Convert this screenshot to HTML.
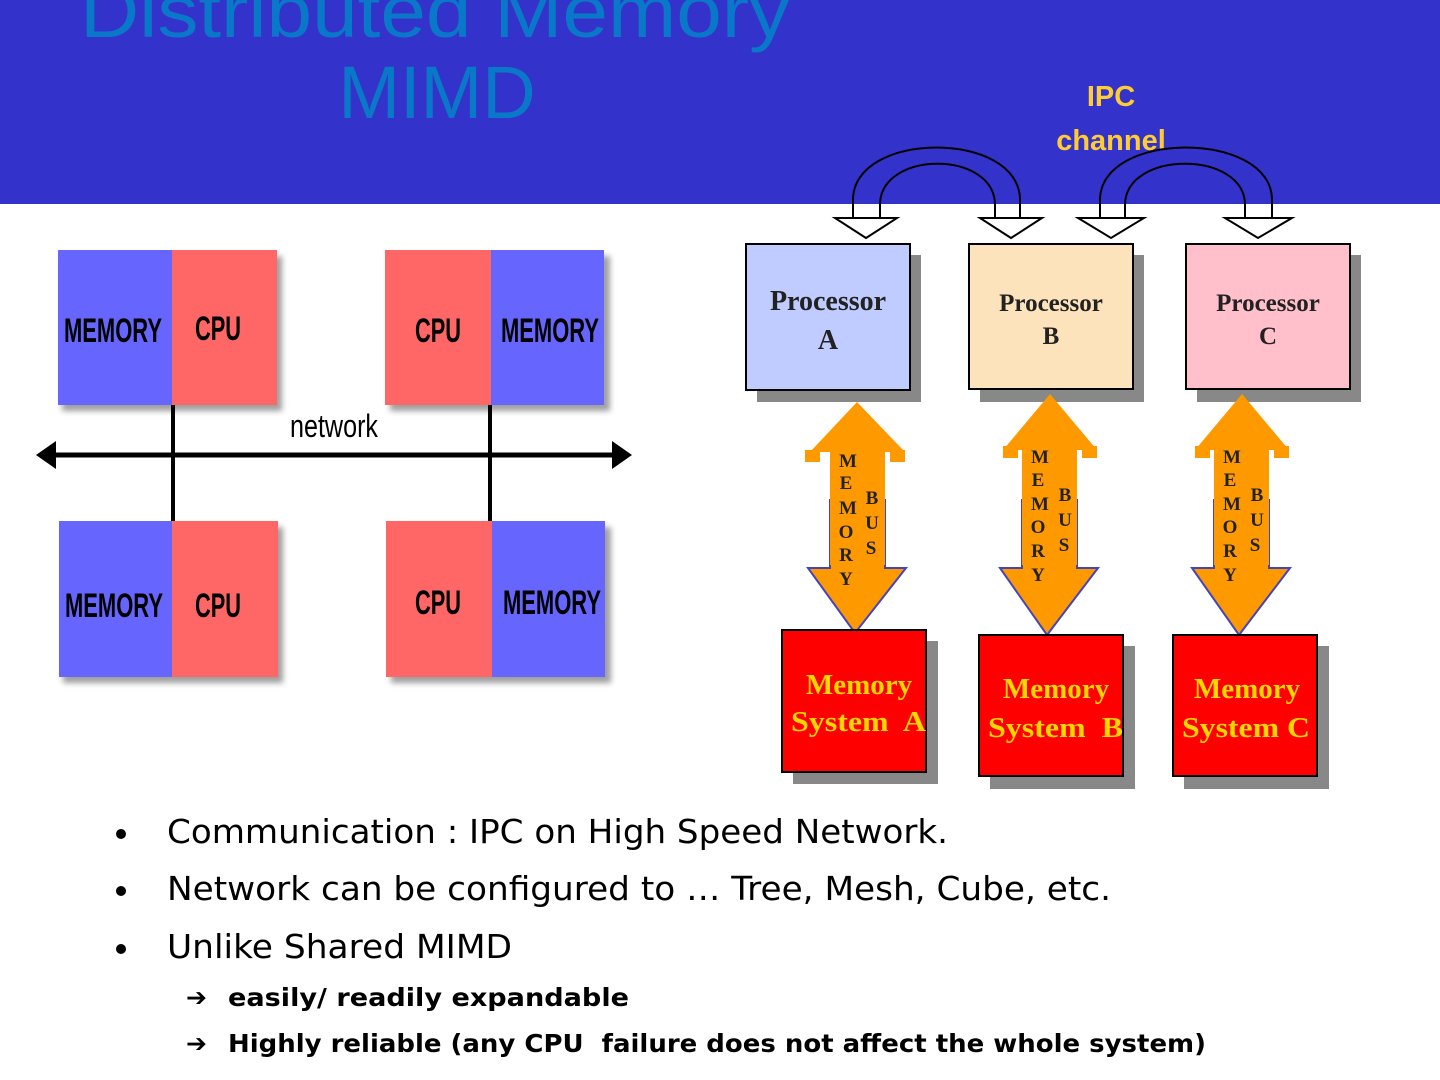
<!DOCTYPE html>
<html><head><meta charset="utf-8"><style>
html,body{margin:0;padding:0;background:#fff;}
svg{display:block;}
</style></head><body>
<svg width="1440" height="1080" viewBox="0 0 1440 1080" xmlns="http://www.w3.org/2000/svg">
<defs>
<filter id="blur" x="-10%" y="-10%" width="130%" height="130%"><feGaussianBlur stdDeviation="3"/></filter>
</defs>
<rect x="0" y="0" width="1440" height="204" fill="#3333cc"/>
<g font-family="Liberation Sans, DejaVu Sans, sans-serif" fill="#0a78c8" font-size="74">
<text x="435" y="37" text-anchor="middle" textLength="710" lengthAdjust="spacingAndGlyphs">Distributed Memory</text>
<text x="437" y="118" text-anchor="middle">MIMD</text>
</g>
<g font-family="Liberation Sans, sans-serif" font-weight="bold" fill="#ffcc33" font-size="29" text-anchor="middle">
<text x="1111" y="106">IPC</text>
<text x="1111" y="150">channel</text>
</g>

<!-- left diagram -->
<g>
<g fill="#777" opacity="0.7" filter="url(#blur)">
<rect x="62" y="256" width="220" height="155"/><rect x="390" y="256" width="220" height="155"/>
<rect x="63" y="527" width="220" height="156"/><rect x="391" y="527" width="220" height="156"/>
</g>
<rect x="58" y="250" width="114" height="155" fill="#6666ff"/><rect x="172" y="250" width="105" height="155" fill="#ff6666"/>
<rect x="385" y="250" width="106" height="155" fill="#ff6666"/><rect x="491" y="250" width="113" height="155" fill="#6666ff"/>
<rect x="59" y="521" width="113" height="156" fill="#6666ff"/><rect x="172" y="521" width="106" height="156" fill="#ff6666"/>
<rect x="386" y="521" width="106" height="156" fill="#ff6666"/><rect x="492" y="521" width="113" height="156" fill="#6666ff"/>
<g stroke="#000" stroke-width="4">
<line x1="173" y1="405" x2="173" y2="521"/><line x1="490" y1="405" x2="490" y2="521"/>
<line x1="50" y1="455" x2="618" y2="455" stroke-width="5"/>
</g>
<polygon points="36,455 56,441 56,469" fill="#000"/><polygon points="632,455 612,441 612,469" fill="#000"/>
<g font-family="Liberation Sans, sans-serif" font-weight="bold" font-size="34" fill="#000" text-anchor="middle">
<text x="113" y="342" textLength="98" lengthAdjust="spacingAndGlyphs">MEMORY</text>
<text x="218" y="340" textLength="46" lengthAdjust="spacingAndGlyphs">CPU</text>
<text x="438" y="342" textLength="46" lengthAdjust="spacingAndGlyphs">CPU</text>
<text x="550" y="342" textLength="98" lengthAdjust="spacingAndGlyphs">MEMORY</text>
<text x="114" y="617" textLength="98" lengthAdjust="spacingAndGlyphs">MEMORY</text>
<text x="218" y="617" textLength="46" lengthAdjust="spacingAndGlyphs">CPU</text>
<text x="438" y="614" textLength="46" lengthAdjust="spacingAndGlyphs">CPU</text>
<text x="552" y="614" textLength="98" lengthAdjust="spacingAndGlyphs">MEMORY</text>
<text x="334" y="437" font-weight="normal" font-size="32" textLength="88" lengthAdjust="spacingAndGlyphs">network</text>
</g>
</g>

<!-- IPC arcs -->
<g fill="none" stroke="#000" stroke-width="2">
<path d="M853,218 L853,200 C853,130 1020,130 1020,200 L1020,218"/>
<path d="M880,218 L880,205 C880,150 995,150 995,205 L995,218"/>
<path d="M1100,218 L1100,200 C1100,130 1272,130 1272,200 L1272,218"/>
<path d="M1125,218 L1125,205 C1125,150 1245,150 1245,205 L1245,218"/>
</g>
<g fill="#fff" stroke="#000" stroke-width="2">
<polygon points="835,218 897,218 866,238"/>
<polygon points="980,218 1042,218 1011,238"/>
<polygon points="1078,218 1144,218 1111,238"/>
<polygon points="1225,218 1292,218 1258,238"/>
</g>

<!-- processors -->
<g fill="#888">
<rect x="757" y="255" width="164" height="147"/><rect x="980" y="255" width="164" height="147"/><rect x="1197" y="255" width="164" height="147"/>
<rect x="793" y="641" width="145" height="143"/><rect x="990" y="646" width="145" height="143"/><rect x="1184" y="646" width="145" height="143"/>
</g>
<rect x="746" y="244" width="164" height="146" fill="#c0ccff" stroke="#000" stroke-width="2"/>
<rect x="969" y="244" width="164" height="145" fill="#fde3bb" stroke="#000" stroke-width="2"/>
<rect x="1186" y="244" width="164" height="145" fill="#ffc0cb" stroke="#000" stroke-width="2"/>
<g font-family="Liberation Serif, serif" font-weight="bold" fill="#222" text-anchor="middle">
<text x="828" y="310" font-size="28">Processor</text><text x="828" y="349" font-size="28">A</text>
<text x="1051" y="311" font-size="25">Processor</text><text x="1051" y="344" font-size="25">B</text>
<text x="1268" y="311" font-size="25">Processor</text><text x="1268" y="344" font-size="25">C</text>
</g>

<!-- arrows -->
<g fill="#ff9900" stroke="#4444bb" stroke-width="2">
<polygon points="808,568 830,568 830,500 885,500 885,568 906,568 855,633"/>
<polygon points="1000,568 1022,568 1022,500 1077,500 1077,568 1098,568 1047,635"/>
<polygon points="1192,568 1214,568 1214,500 1269,500 1269,568 1290,568 1239,635"/>
</g>
<g fill="#ff9900">
<polygon points="857,402 905,452 885,452 885,565 830,565 830,452 810,452"/>
<polygon points="1050,394 1097,450 1077,450 1077,565 1022,565 1022,450 1003,450"/>
<polygon points="1242,394 1289,450 1269,450 1269,565 1214,565 1214,450 1195,450"/>
<rect x="805" y="450" width="15" height="12"/><rect x="890" y="450" width="15" height="12"/>
<rect x="1003" y="446" width="15" height="12"/><rect x="1082" y="446" width="15" height="12"/>
<rect x="1195" y="446" width="15" height="12"/><rect x="1274" y="446" width="15" height="12"/>
</g>
<g font-family="Liberation Serif, serif" font-weight="bold" fill="#222" font-size="19" text-anchor="middle">
<text x="848" y="467">M</text><text x="846" y="489">E</text><text x="848" y="514">M</text><text x="846" y="538">O</text><text x="846" y="561">R</text><text x="846" y="585">Y</text>
<text x="872" y="504">B</text><text x="872" y="529">U</text><text x="871" y="554">S</text>
<text x="1040" y="463">M</text><text x="1038" y="486">E</text><text x="1040" y="510">M</text><text x="1038" y="533">O</text><text x="1038" y="557">R</text><text x="1038" y="581">Y</text>
<text x="1065" y="501">B</text><text x="1065" y="526">U</text><text x="1064" y="551">S</text>
<text x="1232" y="463">M</text><text x="1230" y="486">E</text><text x="1232" y="510">M</text><text x="1230" y="533">O</text><text x="1230" y="557">R</text><text x="1230" y="581">Y</text>
<text x="1257" y="501">B</text><text x="1257" y="526">U</text><text x="1255" y="551">S</text>
</g>

<!-- memory systems -->
<rect x="782" y="630" width="144" height="142" fill="#ff0000" stroke="#000" stroke-width="2"/>
<rect x="979" y="635" width="144" height="141" fill="#ff0000" stroke="#000" stroke-width="2"/>
<rect x="1173" y="635" width="144" height="141" fill="#ff0000" stroke="#000" stroke-width="2"/>
<g font-family="Liberation Serif, serif" font-weight="bold" fill="#ffd700" font-size="29">
<text x="859" y="694" text-anchor="middle">Memory</text><text x="791" y="731" textLength="135" lengthAdjust="spacingAndGlyphs" xml:space="preserve">System  A</text>
<text x="1056" y="698" text-anchor="middle">Memory</text><text x="988" y="737" textLength="135" lengthAdjust="spacingAndGlyphs" xml:space="preserve">System  B</text>
<text x="1247" y="698" text-anchor="middle">Memory</text><text x="1182" y="737" textLength="128" lengthAdjust="spacingAndGlyphs">System C</text>
</g>

<!-- bullets -->
<g fill="#000">
<circle cx="121" cy="834" r="5"/><circle cx="121" cy="891" r="5"/><circle cx="121" cy="949" r="5"/>
</g>
<g font-family="DejaVu Sans, Liberation Sans, sans-serif" fill="#000" font-size="33">
<text x="167" y="843" textLength="781" lengthAdjust="spacingAndGlyphs">Communication : IPC on High Speed Network.</text>
<text x="167" y="900" textLength="944" lengthAdjust="spacingAndGlyphs">Network can be configured to … Tree, Mesh, Cube, etc.</text>
<text x="167" y="958" textLength="345" lengthAdjust="spacingAndGlyphs">Unlike Shared MIMD</text>
</g>
<g font-family="DejaVu Sans, Liberation Sans, sans-serif" fill="#000" font-size="25" font-weight="bold">
<text x="186" y="1006">➔</text>
<text x="228" y="1006" textLength="401" lengthAdjust="spacingAndGlyphs">easily/ readily expandable</text>
<text x="186" y="1052">➔</text>
<text x="228" y="1052" textLength="978" lengthAdjust="spacingAndGlyphs" xml:space="preserve">Highly reliable (any CPU  failure does not affect the whole system)</text>
</g>
</svg>
</body></html>
